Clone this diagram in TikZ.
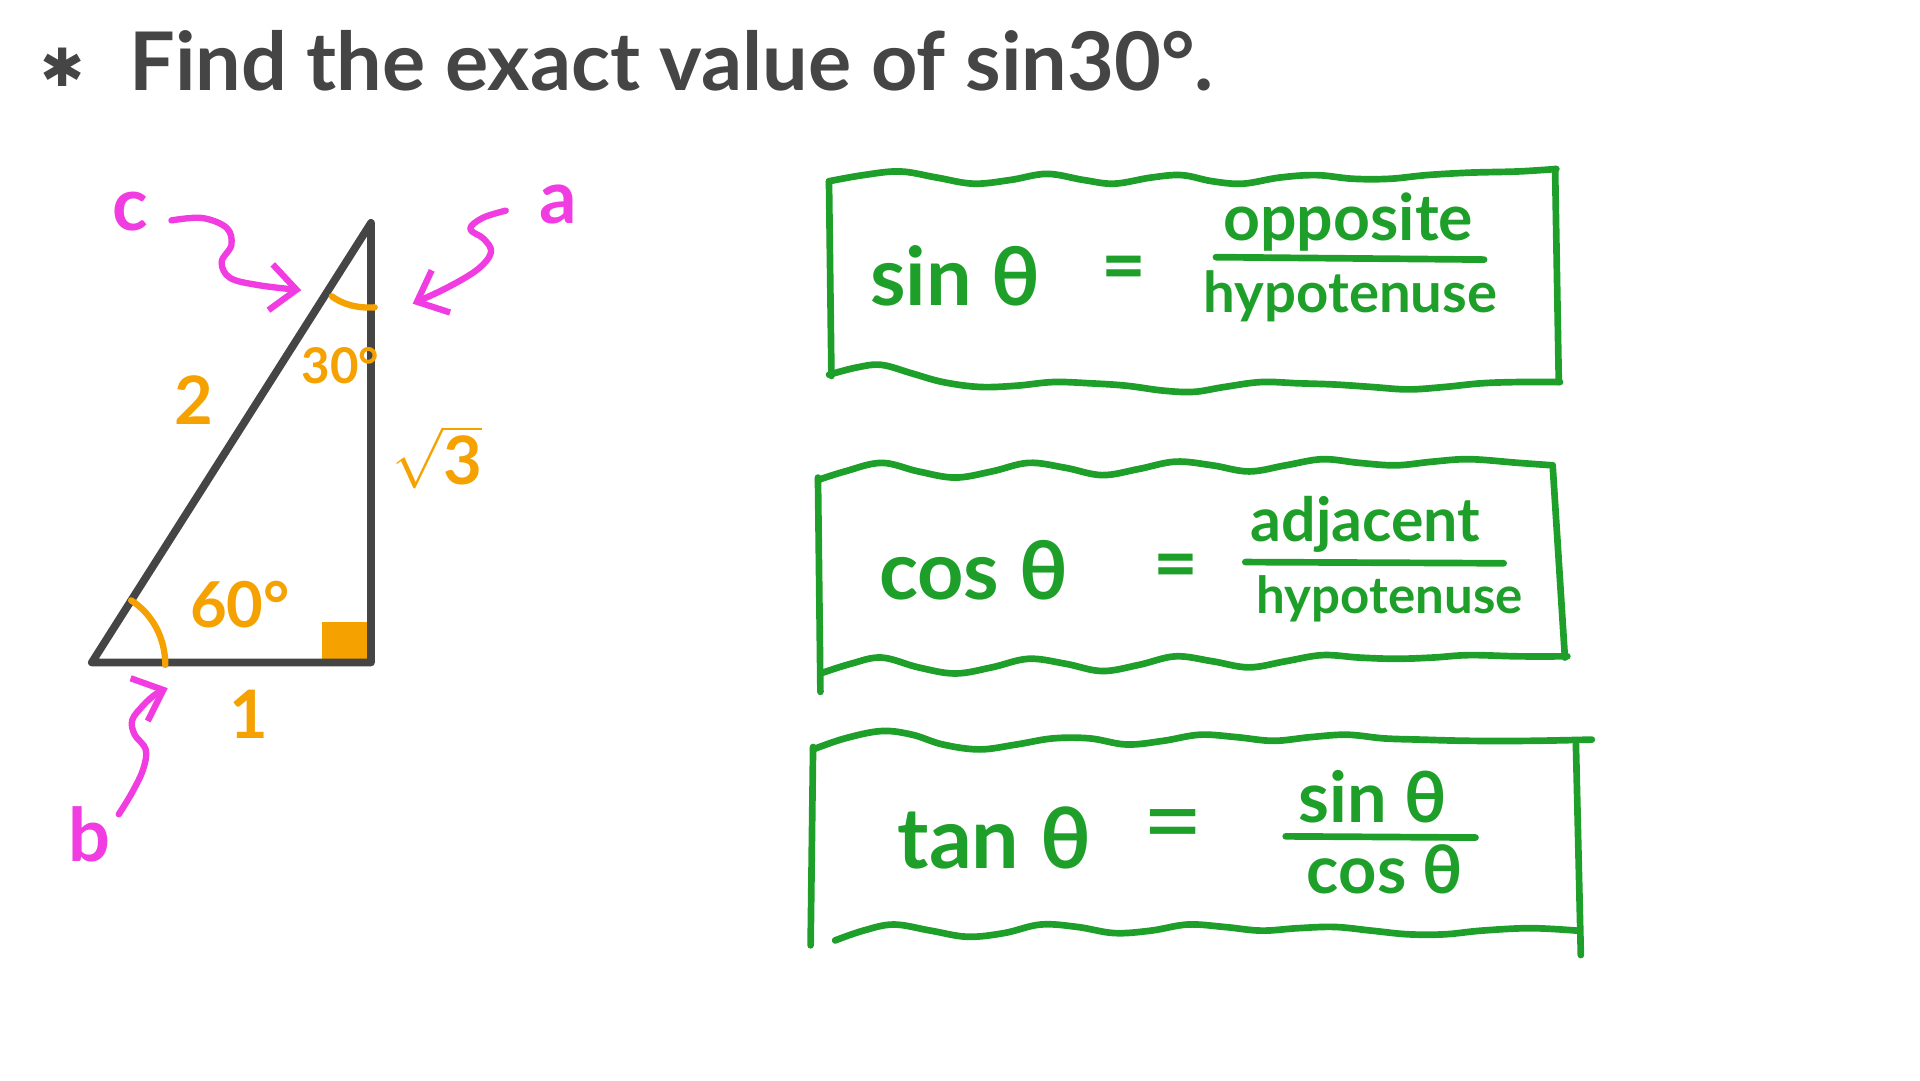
\documentclass[tikz,border=0pt]{standalone}
\usepackage{fontspec}
\setmainfont{Lato}
\newfontfamily\djv{DejaVu Sans}
\usetikzlibrary{arrows.meta}
\definecolor{ink}{HTML}{454545}
\definecolor{org}{HTML}{F5A100}
\definecolor{mag}{HTML}{F03CE0}
\definecolor{grn}{HTML}{1E9F2A}
\tikzset{
  tri/.style={draw=ink, line width=2.2pt, line join=round, line cap=round},
  orng/.style={text=org, inner sep=0pt},
  mg/.style={draw=mag, line width=1.8pt, line cap=round, line join=round, -{Straight Barb[length=2.6mm,width=4.6mm,line width=1.8pt]}},
  mgt/.style={text=mag, inner sep=0pt, font=\bfseries\fontsize{21}{24}\selectfont},
  gbox/.style={draw=grn, line width=1.9pt, line cap=round, line join=round},
  gtxt/.style={text=grn, inner sep=0pt},
  oarc/.style={draw=org, line width=1.8pt, line cap=round},
}
\begin{document}
\begin{tikzpicture}[x=0.012245cm,y=-0.012245cm]
\useasboundingbox (0,0) rectangle (1568,882);
% title
\node[text=ink, inner sep=0pt, font=\djv\bfseries\fontsize{15}{15}\selectfont] (bul) at (51,55) {✱};
\node[anchor=base west, text=ink, inner sep=0pt, font=\bfseries\fontsize{23}{26}\selectfont] (title) at (105,74) {Find the exact value of sin30°.};
% triangle
\coordinate (B) at (75,541);
\coordinate (T) at (303,182);
\coordinate (R) at (303,541);
\fill[org] (263,508) rectangle (300,540);
\draw[tri] (B) -- (T) -- (R) -- cycle;
\draw[oarc] (135,543) .. controls (135,521) and (124.4,501.3) .. (107.1,490.3);
\draw[oarc] (271,242) .. controls (279,248) and (291,252) .. (306,251);
\node[orng, font=\bfseries\fontsize{14}{17}\selectfont] (a30) at (278,299) {30°};
\node[orng, font=\bfseries\fontsize{18}{22}\selectfont] (a60) at (196,494) {60°};
\node[orng, font=\bfseries\fontsize{19}{22}\selectfont] (s2) at (158,327) {2};
\node[orng, font=\bfseries\fontsize{19}{22}\selectfont] (s3) at (357,373) {$\sqrt{\mbox{3}}$};
\node[orng, font=\bfseries\fontsize{19}{22}\selectfont] (s1) at (203,583) {1};
% magenta labels and arrows
\node[mgt] (lc) at (106,173) {c};
\node[mgt] (la) at (456,167) {a};
\node[mgt] (lb) at (73,681) {b};
\coordinate (cs) at (140,180);
\coordinate (ce) at (246,237);
\coordinate (as) at (413,172);
\coordinate (ae) at (337,248);
\coordinate (bs) at (97,665);
\coordinate (be) at (137,562);
\draw[mg] plot[smooth, tension=0.6] coordinates {(cs) (165,178) (185,186) (189,200) (181,214) (188,227) (212,233) (ce)};
\draw[mg] plot[smooth, tension=0.6] coordinates {(as) (394,178) (384,187) (395,195) (401,206) (390,220) (365,235) (ae)};
\draw[mg] plot[smooth, tension=0.6] coordinates {(bs) (108,647) (117,628) (119,612) (110,600) (108,588) (117,576) (127,567) (be)};
% box 1
\draw[gbox] plot[smooth, tension=0.6] coordinates {(677,148) (705,143) (735,140) (765,145) (795,150) (825,147) (855,142) (885,147) (910,150) (940,145) (965,143) (990,148) (1015,150) (1045,145) (1075,143) (1105,146) (1135,146) (1165,143) (1200,141) (1240,140) (1271,138)};
\draw[gbox] (677,148) -- (679,307);
\draw[gbox] (1270,138) -- (1273,312);
\draw[gbox] plot[smooth, tension=0.6] coordinates {(677,306) (700,300) (720,298) (745,305) (770,312) (800,316) (830,315) (860,312) (890,313) (920,315) (950,319) (975,320) (1000,316) (1030,312) (1060,313) (1090,314) (1120,316) (1150,318) (1180,316) (1210,313) (1240,312) (1274,312)};
\node[gtxt, font=\bfseries\fontsize{23}{26}\selectfont] (sin1) at (780,225) {sin θ};
\node[gtxt, font=\bfseries\fontsize{22}{24}\selectfont] (eq1) at (918,224) {=};
\node[gtxt, font=\bfseries\fontsize{18.3}{22}\selectfont] (opp) at (1101,181) {opposite};
\node[gtxt, font=\bfseries\fontsize{16}{20}\selectfont] (hyp1) at (1103,242) {hypotenuse};
\draw[gbox] (993,210) -- (1212,212);
% box 2
\draw[gbox] plot[smooth, tension=0.6] coordinates {(668,392) (690,385) (720,378) (750,385) (780,390) (810,385) (840,378) (870,382) (900,388) (930,383) (960,377) (990,380) (1020,385) (1050,380) (1080,375) (1110,378) (1140,380) (1170,377) (1200,375) (1240,378) (1268,380)};
\draw[gbox] (668,390) -- (670,565);
\draw[gbox] (1268,380) -- (1278,537);
\draw[gbox] plot[smooth, tension=0.6] coordinates {(670,550) (695,542) (720,537) (750,545) (780,550) (810,545) (840,538) (870,542) (900,548) (930,543) (960,536) (990,540) (1020,545) (1050,540) (1080,535) (1110,537) (1140,538) (1170,537) (1200,535) (1240,536) (1280,536)};
\node[gtxt, font=\bfseries\fontsize{23}{26}\selectfont] (cos2) at (795,466) {cos θ};
\node[gtxt, font=\bfseries\fontsize{22}{24}\selectfont] (eq2) at (960,467) {=};
\node[gtxt, font=\bfseries\fontsize{17.3}{21}\selectfont] (adj) at (1115,428) {adjacent};
\node[gtxt, font=\bfseries\fontsize{14.5}{19}\selectfont] (hyp2) at (1135,489) {hypotenuse};
\draw[gbox] (1017,459) -- (1228,460);
% box 3
\draw[gbox] plot[smooth, tension=0.6] coordinates {(664,612) (690,603) (720,597) (745,600) (770,608) (800,612) (830,608) (860,603) (890,603) (920,608) (950,605) (980,600) (1010,602) (1040,605) (1070,602) (1100,600) (1130,603) (1160,604) (1200,605) (1250,605) (1300,604)};
\draw[gbox] (664,610) -- (662,772);
\draw[gbox] (1287,608) -- (1291,780);
\draw[gbox] plot[smooth, tension=0.6] coordinates {(682,768) (705,760) (730,755) (760,760) (790,765) (820,762) (850,755) (880,757) (910,762) (940,760) (970,755) (1000,757) (1030,760) (1060,758) (1090,757) (1120,760) (1150,763) (1180,763) (1210,760) (1250,758) (1288,760)};
\node[gtxt, font=\bfseries\fontsize{24}{27}\selectfont] (tan3) at (812,684) {tan θ};
\node[gtxt, font=\fontsize{30}{32}\selectfont] (eq3) at (958,681) {=};
\node[gtxt, font=\bfseries\fontsize{20}{23}\selectfont] (sin3) at (1121,651) {sin θ};
\node[gtxt, font=\bfseries\fontsize{19}{22}\selectfont] (cos3) at (1131,710) {cos θ};
\draw[gbox] (1050,683) -- (1205,684);
\end{tikzpicture}
\end{document}
